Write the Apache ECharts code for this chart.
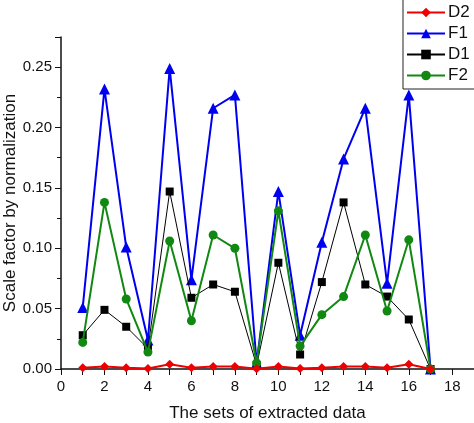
<!DOCTYPE html>
<html><head><meta charset="utf-8">
<script src="https://cdn.jsdelivr.net/npm/echarts@6/dist/echarts.min.js"></script>
<style>html,body{margin:0;padding:0;background:#fff}#c{width:474px;height:423px}</style>
</head><body><div id="c"></div>
<script>
const xs = [1,2,3,4,5,6,7,8,9,10,11,12,13,14,15,16,17];
const D2 = [0.001,0.002,0.001,0.0005,0.004,0.001,0.002,0.002,0.0003,0.002,0.0005,0.001,0.002,0.002,0.001,0.004,0];
const F1 = [0.051,0.232,0.101,0.024,0.249,0.074,0.216,0.227,0.005,0.147,0.028,0.105,0.174,0.216,0.071,0.227,0];
const D1 = [0.028,0.049,0.035,0.017,0.147,0.059,0.070,0.064,0.003,0.088,0.012,0.072,0.138,0.070,0.060,0.041,0];
const F2 = [0.022,0.138,0.058,0.014,0.106,0.040,0.111,0.100,0.005,0.131,0.019,0.045,0.060,0.111,0.048,0.107,0];
const xTicks = {min:0, max:19, interval:2};
const yTicks = {min:0, max:0.275, interval:0.05};
const yTitle = 'Scale factor by normalization';
const xTitle = 'The sets of extracted data';

const pair = a => xs.map((x,i)=>[x,a[i]]);
const font = 'Liberation Sans, Arial, sans-serif';
const chart = echarts.init(document.getElementById('c'), null, {renderer:'canvas'});
function ser(name, data, color, symbol, size, width, z){
  return {name, type:'line', data:pair(data), symbol, symbolSize:size, showSymbol:true,
    lineStyle:{color, width}, itemStyle:{color, borderWidth:0}, z, animation:false};
}
chart.setOption({
  animation:false,
  grid:{left:61, right:0, top:37, bottom:54, containLabel:false, outerBoundsMode:'none'},
  graphic:[{type:'text', x:10, y:203, rotation:Math.PI/2,
    style:{text:yTitle, fontFamily:font, fontSize:17, fill:'#111', align:'center', verticalAlign:'middle'}}],
  legend:{
    left:403, top:-1, orient:'vertical', itemWidth:38, itemHeight:12, itemGap:4,
    padding:[5,6,5,3], borderColor:'#222', borderWidth:1, backgroundColor:'#fff',
    textStyle:{fontFamily:font, fontSize:17, lineHeight:17, color:'#111', padding:[0,0,0,-2]},
    data:['D2','F1','D1','F2']
  },
  xAxis:{type:'value', min:xTicks.min, max:xTicks.max, interval:xTicks.interval,
    name:xTitle, nameLocation:'middle', nameGap:36,
    nameTextStyle:{fontFamily:font, fontSize:17, color:'#111'},
    axisLine:{lineStyle:{color:'#111', width:1.5}},
    axisTick:{show:true, inside:false, length:6, lineStyle:{color:'#111'}},
    minorTick:{show:true, splitNumber:2, length:6, lineStyle:{color:'#111'}},
    axisLabel:{fontFamily:font, fontSize:15, color:'#111', margin:10, showMaxLabel:false},
    splitLine:{show:false}},
  yAxis:{type:'value', min:yTicks.min, max:yTicks.max, interval:yTicks.interval,
    axisLine:{show:true, lineStyle:{color:'#111', width:1.5}},
    axisTick:{show:true, length:6, lineStyle:{color:'#111'}},
    minorTick:{show:true, splitNumber:2, length:4, lineStyle:{color:'#111'}},
    axisLabel:{fontFamily:font, fontSize:15, color:'#111', margin:9,
      formatter:v=>v.toFixed(2), showMaxLabel:false},
    splitLine:{show:false}},
  series:[
    ser('F1', F1, '#0000f0', 'triangle', 11, 2, 2),
    ser('D1', D1, '#000000', 'rect', 8, 1, 3),
    ser('F2', F2, '#118811', 'circle', 9, 2, 4),
    ser('D2', D2, '#ee0000', 'diamond', 9, 2, 5)
  ]
});
</script></body></html>
